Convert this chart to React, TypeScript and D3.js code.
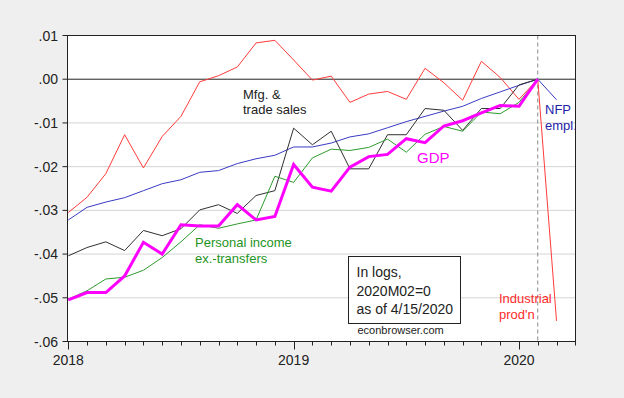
import React from "react";
import * as d3 from "d3";

// Monthly observations, 2018M01 .. 2020M03 (index 0 = 2018M01)
const ipData: (number | null)[] = [
  -0.0305, -0.027, -0.0216, -0.0127, -0.0203, -0.0131, -0.0085, -0.0006, 0.0008, 0.0028,
  0.0083, 0.0089, 0.0044, -0.0002, 0.0007, -0.0053, -0.0034, -0.0028, -0.0046, 0.0025,
  -0.0008, -0.0048, 0.0041, 0.0004, -0.0046, 0.0, -0.0553,
];
const nfpData: (number | null)[] = [
  -0.0322, -0.0293, -0.0281, -0.0271, -0.0255, -0.0239, -0.023, -0.0213, -0.0209, -0.0193,
  -0.0182, -0.0174, -0.0155, -0.0155, -0.0146, -0.0132, -0.0125, -0.0111, -0.0097, -0.0085,
  -0.0073, -0.0062, -0.0044, -0.0029, -0.0014, 0.0, -0.0047,
];
const salesData: (number | null)[] = [
  -0.0404, -0.0385, -0.0372, -0.0392, -0.0346, -0.0358, -0.0342, -0.0299, -0.0287, -0.0307,
  -0.0266, -0.0255, -0.0112, -0.015, -0.0119, -0.0205, -0.0205, -0.0127, -0.0127, -0.0067,
  -0.0071, -0.0117, -0.0067, -0.0067, -0.0013, 0.0,
];
const incomeData: (number | null)[] = [
  -0.0503, -0.0484, -0.0457, -0.0453, -0.0437, -0.0408, -0.0372, -0.0333, -0.0341, -0.0331,
  -0.0322, -0.0222, -0.0236, -0.018, -0.016, -0.0163, -0.0156, -0.0137, -0.0167, -0.0126,
  -0.0108, -0.0119, -0.0075, -0.0079, -0.0053, 0.0,
];
const gdpData: (number | null)[] = [
  -0.0505, -0.0488, -0.0488, -0.045, -0.0373, -0.04, -0.0333, -0.0336, -0.0336, -0.0287,
  -0.0322, -0.0314, -0.0195, -0.0247, -0.0256, -0.0201, -0.0177, -0.0172, -0.0136, -0.0145,
  -0.0107, -0.0095, -0.0077, -0.006, -0.0062, 0.0,
];

const yTicks = [0.01, 0.0, -0.01, -0.02, -0.03, -0.04, -0.05, -0.06];
const yTickLabels = [".01", ".00", "-.01", "-.02", "-.03", "-.04", "-.05", "-.06"];
const yearTicks = [0, 12, 24];
const yearLabels = ["2018", "2019", "2020"];
const monthTicks = d3.range(0, 28);
const refMonth = 25; // 2020M02

const W = 624;
const H = 398;
const FONT = "'Liberation Sans', Arial, Helvetica, sans-serif";

export default function App() {
  const left = 67.5, right = 575.5, top = 35.5, bottom = 341.5;
  const x = d3.scaleLinear().domain([0, 27]).range([68.3, 575.3]);
  const y = d3.scaleLinear().domain([-0.06, 0.01]).range([bottom, top]);

  const mk = (data: (number | null)[]) =>
    d3
      .line<number | null>()
      .defined((d) => d !== null)
      .x((_, i) => x(i))
      .y((d) => y(d as number))(data) || "";

  return (
    <svg
      width={W}
      height={H}
      style={{ position: "absolute", left: 0, top: 0, background: "#efefef" }}
      fontFamily={FONT}
    >
      <rect x={0} y={0} width={W} height={H} fill="#efefef" />
      <rect x={left} y={top} width={right - left} height={bottom - top} fill="#ffffff" />
      {/* gridlines */}
      {yTicks
        .filter((t) => t < 0 && t > -0.06)
        .map((t) => (
          <line key={"g" + t} x1={left} x2={right} y1={y(t)} y2={y(t)} stroke="#d4d4d4" strokeWidth={1} />
        ))}
      {/* zero line */}
      <line x1={left} x2={right} y1={y(0)} y2={y(0)} stroke="#222" strokeWidth={1} />
      {/* reference dashed line */}
      <line
        x1={x(refMonth)}
        x2={x(refMonth)}
        y1={top}
        y2={bottom}
        stroke="#8a8a8a"
        strokeWidth={1}
        strokeDasharray="4,3"
      />
      {/* series */}
      <path d={mk(ipData)} fill="none" stroke="#ff3b3b" strokeWidth={1} />
      <path d={mk(nfpData)} fill="none" stroke="#3a3ac4" strokeWidth={1} />
      <path d={mk(salesData)} fill="none" stroke="#303030" strokeWidth={1} />
      <path d={mk(incomeData)} fill="none" stroke="#2e9a2e" strokeWidth={1} />
      <path d={mk(gdpData)} fill="none" stroke="#ff00ff" strokeWidth={3} strokeLinejoin="miter" />
      {/* frame */}
      <rect x={left} y={top} width={right - left} height={bottom - top} fill="none" stroke="#222" strokeWidth={1} />
      {/* y axis */}
      {yTicks.map((t, i) => (
        <g key={"y" + t}>
          <line x1={left - 5} x2={left} y1={y(t)} y2={y(t)} stroke="#222" />
          <text x={58} y={y(t) + 5} textAnchor="end" fontSize={14} fill="#222">
            {yTickLabels[i]}
          </text>
        </g>
      ))}
      {/* x axis */}
      {monthTicks.map((m) => (
        <line
          key={"m" + m}
          x1={Math.round(x(m)) + 0.5}
          x2={Math.round(x(m)) + 0.5}
          y1={bottom}
          y2={yearTicks.includes(m) ? bottom + 8 : bottom + 4}
          stroke="#222"
        />
      ))}
      {yearTicks.map((m, i) => (
        <text key={"yl" + m} x={x(m)} y={365} textAnchor="middle" fontSize={14} fill="#222">
          {yearLabels[i]}
        </text>
      ))}
      {/* annotations */}
      <text fontSize={13} fill="#222">
        <tspan x={243} y={99}>Mfg. &amp;</tspan>
        <tspan x={243} y={114}>trade sales</tspan>
      </text>
      <text fontSize={13} fill="#2323a8">
        <tspan x={545} y={114}>NFP</tspan>
        <tspan x={545} y={130}>empl.</tspan>
      </text>
      <text x={417} y={163} fontSize={15} fill="#ff00ff">
        GDP
      </text>
      <text fontSize={13} fill="#1e941e">
        <tspan x={195} y={247}>Personal income</tspan>
        <tspan x={195} y={263}>ex.-transfers</tspan>
      </text>
      <text fontSize={13} fill="#ff2a2a">
        <tspan x={499} y={303}>Industrial</tspan>
        <tspan x={499} y={319}>prod'n</tspan>
      </text>
      <rect x={348.5} y={256.5} width={112} height={67} fill="#ffffff" stroke="#222" strokeWidth={1} />
      <text fontSize={14} fill="#222">
        <tspan x={356.5} y={277}>In logs,</tspan>
        <tspan x={356.5} y={295.5}>2020M02=0</tspan>
        <tspan x={356.5} y={314}>as of 4/15/2020</tspan>
      </text>
      <text x={357.5} y={334} fontSize={11} fill="#222">
        econbrowser.com
      </text>
    </svg>
  );
}
